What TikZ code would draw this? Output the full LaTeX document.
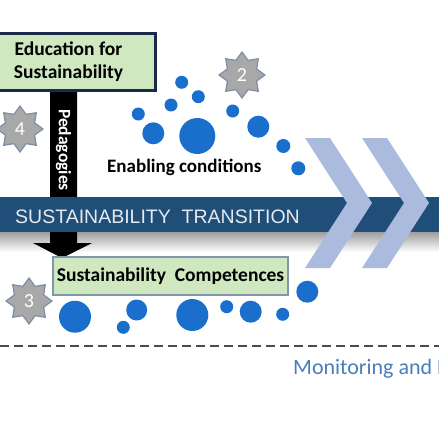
\documentclass[tikz,border=0pt]{standalone}
\usepackage{fontspec}
\setmainfont{Carlito}
\newfontfamily\bandfont{Liberation Sans}
\usetikzlibrary{shapes.geometric,positioning}

\definecolor{bandblue}{HTML}{1F4E79}
\definecolor{chevblue}{HTML}{AABBDD}
\definecolor{dotblue}{HTML}{1A6FCC}
\definecolor{boxgreen}{HTML}{CFE8C0}
\definecolor{boxnavy}{HTML}{1C2A4A}
\definecolor{boxline}{HTML}{7F98AE}
\definecolor{stargray}{HTML}{A8A8A8}
\definecolor{starline}{HTML}{7E8EA4}
\definecolor{monblue}{HTML}{4A7EBB}

\tikzset{
  ebox/.style={draw=boxnavy,line width=3pt,fill=boxgreen,inner sep=0pt,
    align=center,font=\bfseries\fontsize{19.5}{23}\selectfont},
  cbox/.style={draw=boxline,line width=1.2pt,fill=boxgreen,inner sep=0pt,
    font=\bfseries\fontsize{19.5}{19.5}\selectfont},
  numstar/.style={star,star points=8,star point ratio=1.45,minimum size=46pt,
    inner sep=0pt,fill=stargray,draw=starline,line width=1.2pt,
    text=white,font=\fontsize{20}{20}\selectfont},
  chevron/.style={fill=chevblue}
}

\begin{document}
\begin{tikzpicture}[x=1pt,y=-1pt]
  \useasboundingbox (0,0) rectangle (439,439);
  \clip (0,0) rectangle (439,439);

  % shadow under the band
  \shade[top color=black!40,bottom color=white] (0,231) rectangle (439,252);

  % pedagogies bar with its arrow
  \fill[black] (50,90) -- (77,90) -- (77,243) -- (92,243) -- (62,258)
    -- (33,243) -- (50,243) -- cycle;
  \node[rotate=-90,text=white,font=\bfseries\fontsize{17.5}{17.5}\selectfont]
    (ped) at (63.5,150) {Pedagogies};

  % transition band
  \fill[bandblue] (0,197) rectangle (439,232);
  \foreach \dx in {0,57}
    \fill[chevron,xshift=\dx] (305,138) -- (330,138) -- (372,203) -- (330,268)
      -- (305,268) -- (347,203) -- cycle;
  \node[anchor=base west,inner sep=0pt,text=white!88!bandblue,
    font=\bandfont\fontsize{19.5}{19.5}\selectfont] (trans) at (15,223)
    {SUSTAINABILITY\ \ TRANSITION};

  % boxes
  \node[ebox,minimum width=173pt,minimum height=57pt] (edu) at (68.5,61.5)
    {Education for\\Sustainability};
  \node[cbox,minimum width=235pt,minimum height=38pt] (comp) at (170.5,276)
    {Sustainability\ \ Competences};

  \node[font=\bfseries\fontsize{19}{19}\selectfont,anchor=base west,inner sep=0pt]
    (enab) at (107,172) {Enabling conditions};

  % dots
  \foreach \x/\y/\r in {181.7/82.3/6.5, 198.3/96.7/6.5, 171/105/6.5,
      138.3/114/6.5, 153.3/133.3/11, 197.3/136/18, 232.7/111/6.5,
      258.3/126.7/11, 283.3/146/7, 298.3/168.3/7,
      75/316.7/16, 123.3/327.3/6.5, 136.7/310/10.5, 192.3/315/16,
      226.7/306.7/6.5, 250.7/311.7/11, 282.7/314.3/6.5, 307.3/291.7/11}
    \fill[dotblue] (\x,\y) circle (\r);

  % stars
  \node[numstar] (s2) at (242,75) {2};
  \node[numstar] (s4) at (20,129) {4};
  \node[numstar] (s3) at (29,301) {3};

  % monitoring
  \draw[black!70,line width=2pt,dash pattern=on 9pt off 5pt] (0,346) -- (439,346);
  \node[anchor=base west,inner sep=0pt,text=monblue,
    font=\fontsize{22}{22}\selectfont] (mon) at (293,374)
    {Monitoring and Evaluation};
\end{tikzpicture}
\end{document}
